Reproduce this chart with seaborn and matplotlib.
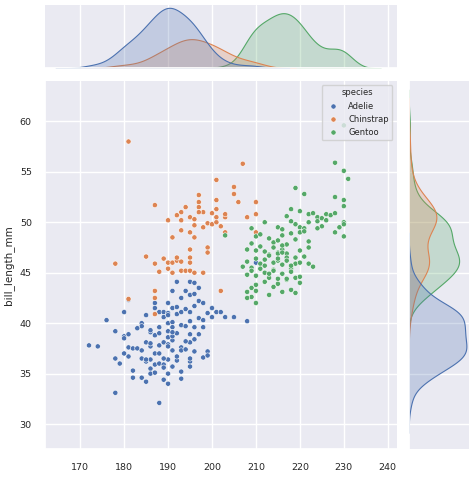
import matplotlib.pyplot as plt
import seaborn as sns
import pandas as pd

sns.set_theme(font_scale=0.62)

adelie_flipper = [172, 174, 176, 178, 178, 178, 179, 180, 180, 180, 181, 181, 181, 181, 182, 182, 183, 183,
                  184, 184, 184, 184, 185, 185, 185, 185, 186, 186, 186, 186, 186, 187, 187, 187, 187, 187,
                  188, 188, 188, 188, 188, 189, 189, 189, 189, 189, 190, 190, 190, 190, 190, 190, 190, 190,
                  190, 191, 191, 191, 191, 191, 191, 191, 192, 192, 192, 192, 192, 193, 193, 193, 193, 193,
                  193, 194, 194, 194, 195, 195, 195, 195, 195, 195, 195, 195, 196, 196, 196, 196, 196, 197,
                  197, 197, 198, 198, 198, 199, 199, 199, 200, 200, 201, 202, 203, 205, 208, 210, 180, 184,
                  185, 186, 188, 189, 190, 191, 192, 194, 196, 198, 183, 187, 190, 193, 195, 197, 186, 189,
                  191, 194, 182, 188]
adelie_bill = [37.8, 37.7, 40.3, 39.2, 36.5, 33.1, 36.0, 41.1, 38.7, 37.0, 42.3, 38.9, 37.6, 36.7, 37.5, 35.3,
               37.5, 39.5, 40.0, 39.7, 36.5, 34.6, 40.8, 38.1, 36.2, 34.2, 39.1, 37.7, 36.4, 35.5, 35.0, 42.0,
               38.8, 37.0, 35.9, 35.1, 41.1, 39.0, 37.8, 36.0, 32.1, 41.1, 40.6, 38.1, 35.9, 34.4, 42.0, 41.0,
               40.0, 39.2, 38.6, 37.9, 36.4, 35.0, 34.0, 43.2, 41.5, 40.1, 39.6, 38.3, 37.3, 35.7, 44.1, 41.6,
               40.9, 39.0, 36.3, 42.5, 41.1, 39.8, 37.6, 35.2, 34.5, 43.2, 41.4, 39.7, 44.1, 42.8, 41.1, 40.2,
               38.9, 38.1, 36.2, 35.7, 44.0, 42.9, 41.7, 39.6, 38.4, 43.5, 42.2, 40.5, 42.0, 40.3, 36.6, 41.0,
               37.2, 36.8, 41.5, 40.6, 41.1, 41.1, 40.6, 40.6, 40.2, 46.0, 38.5, 37.3, 36.4, 39.3, 37.0, 36.5,
               37.7, 38.7, 36.7, 38.2, 37.2, 39.6, 39.5, 41.5, 40.8, 37.3, 36.5, 38.9, 38.0, 35.6, 39.1, 37.4,
               34.6, 39.6]
chinstrap_flipper = [181, 207, 201, 205, 205, 206, 197, 197, 197, 187, 194, 193, 198, 197, 195, 193, 190, 196,
                     199, 200, 201, 202, 203, 203, 201, 201, 210, 210, 210, 198, 195, 193, 196, 203, 191, 199,
                     199, 195, 185, 189, 190, 191, 192, 192, 193, 195, 195, 187, 178, 188, 190, 193, 194, 195,
                     196, 198, 191, 202, 187, 187, 181, 187, 200, 192, 196, 201, 208]
chinstrap_bill = [58.0, 55.8, 54.2, 53.5, 52.8, 52.0, 52.7, 52.0, 51.5, 51.7, 51.5, 51.0, 51.0, 51.0, 50.5,
                  50.2, 50.2, 50.3, 49.9, 49.8, 50.0, 49.6, 50.5, 50.8, 51.3, 50.5, 52.0, 50.8, 49.0, 49.5,
                  49.0, 49.2, 48.5, 49.0, 48.5, 47.5, 47.0, 47.3, 46.6, 46.4, 46.0, 46.0, 46.2, 46.5, 46.1,
                  46.5, 46.0, 45.9, 45.9, 45.1, 45.4, 45.2, 45.2, 45.2, 45.0, 45.0, 45.0, 43.2, 43.2, 42.5,
                  42.4, 40.9, 50.9, 50.7, 49.7, 52.2, 50.5]
gentoo_flipper = [230, 228, 230, 231, 219, 221, 228, 230, 230, 218, 220, 222, 223, 224, 224, 225, 226, 226,
                  227, 228, 225, 224, 230, 230, 229, 228, 230, 219, 212, 215, 216, 217, 218, 220, 221, 222,
                  209, 210, 211, 213, 214, 215, 216, 217, 218, 219, 220, 222, 208, 209, 210, 211, 212, 213,
                  214, 215, 216, 217, 219, 220, 221, 207, 208, 209, 210, 211, 212, 213, 214, 215, 216, 217,
                  218, 219, 220, 223, 208, 209, 210, 211, 212, 213, 214, 215, 216, 217, 218, 219, 220, 222,
                  209, 210, 212, 214, 216, 218, 208, 209, 210, 213, 215, 217, 219, 215, 216, 212, 210, 214,
                  208, 203, 221, 222, 216, 213, 215, 217, 218, 220]
gentoo_bill = [59.6, 55.9, 55.1, 54.3, 53.4, 52.8, 52.5, 52.2, 51.6, 51.3, 51.1, 50.8, 50.9, 50.5, 50.1, 50.4,
               50.8, 50.2, 50.7, 50.9, 49.6, 49.4, 50.0, 49.8, 49.5, 49.0, 48.6, 49.8, 50.0, 49.5, 49.3, 50.6,
               50.1, 49.5, 49.4, 50.0, 49.4, 48.6, 48.8, 48.4, 48.0, 48.2, 48.7, 47.8, 48.9, 48.3, 49.0, 48.1,
               47.3, 47.9, 47.2, 47.6, 47.1, 46.8, 47.5, 47.0, 47.3, 46.9, 46.5, 47.2, 46.6, 45.6, 46.1, 45.5,
               46.4, 45.9, 46.3, 46.7, 46.0, 46.2, 45.8, 46.5, 45.4, 45.9, 46.0, 45.6, 44.8, 45.2, 44.7, 45.4,
               45.0, 44.5, 45.3, 44.4, 44.9, 44.3, 45.1, 44.5, 44.6, 45.9, 43.5, 43.2, 44.1, 43.6, 43.1, 43.3,
               43.1, 42.6, 43.8, 42.8, 43.9, 44.4, 43.0, 46.9, 47.0, 45.7, 42.0, 45.2, 42.5, 48.7, 49.1, 47.5,
               47.7, 44.9, 46.4, 46.2, 45.7, 44.0]

penguins = pd.DataFrame({
    "flipper_length_mm": adelie_flipper + chinstrap_flipper + gentoo_flipper,
    "bill_length_mm": adelie_bill + chinstrap_bill + gentoo_bill,
    "species": ["Adelie"] * len(adelie_flipper) + ["Chinstrap"] * len(chinstrap_flipper)
               + ["Gentoo"] * len(gentoo_flipper),
})

g = sns.jointplot(data=penguins, x="flipper_length_mm", y="bill_length_mm",
                  hue="species", height=4.74, s=14, linewidth=0.4,
                  marginal_kws={"linewidth": 0.8})
g.ax_joint.set_xlim(162, 242)
g.ax_joint.set_ylim(27.5, 64)
g.ax_joint.set_xticks(range(170, 241, 10))
g.ax_joint.legend(title="species", loc="upper right", fontsize=6, title_fontsize=6)
g.figure.set_size_inches(4.74, 4.78)
g.figure.subplots_adjust(left=0.095, right=0.99, bottom=0.06, top=0.99)
g.figure.savefig("out.png", dpi=100)
